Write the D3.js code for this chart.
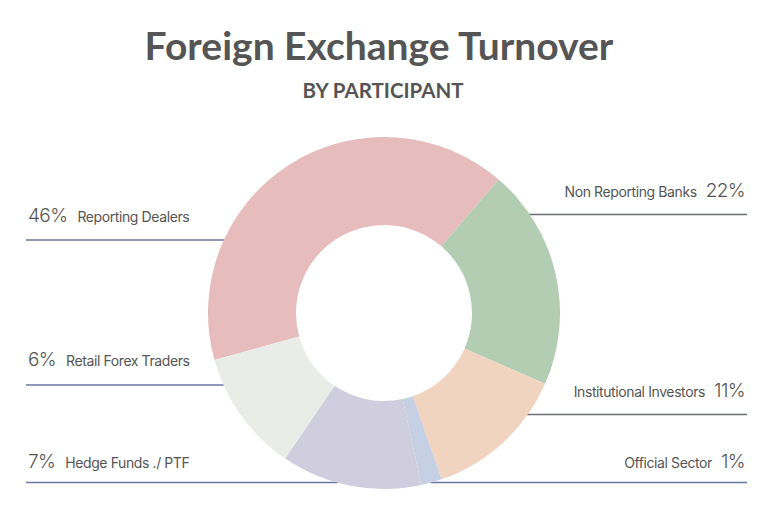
<!DOCTYPE html>
<html>
<head>
<meta charset="utf-8">
<script src="https://cdn.jsdelivr.net/npm/d3@7"></script>
<style>
  body { margin: 0; background: #fff; }
  .title { font-family: Lato, sans-serif; font-weight: 700; fill: #555; }
  .lab { font-family: Inter, sans-serif; fill: #555; }
</style>
</head>
<body>
<svg id="chart"></svg>
<script>
// participants, clockwise from the left edge of the big slice
const participants = ["Reporting Dealers", "Non Reporting Banks", "Institutional Investors",
  "Official Sector", "Hedge Funds ./ PTF", "Retail Forex Traders"];
// percentages printed in the labels
const labelPct = [46, 22, 11, 1, 7, 6];
// share of the ring each slice actually takes in the picture
const sliceShare = [40.6, 20.3, 13.1, 1.9, 12.9, 11.2];
const sliceColors = ["#e6bcbd", "#b3cdb3", "#f0d4c0", "#c6d0e4", "#d0cede", "#eaece8"];
// which side the label sits on, the y of its rule and of its text
const labelSide = ["left", "right", "right", "right", "left", "left"];
const ruleY = [240, 214.5, 414.5, 482.5, 482.5, 385];
const labelY = [221.5, 196.5, 397, 468, 467.5, 366];
const ruleColors = ["#6a76a0", "#6b6f78", "#6b6f78", "#6a76a0", "#6a76a0", "#6a76a0"];

const WIDTH = 768, HEIGHT = 512;
const CX = 384, CY = 313;
const OUTER = 176, INNER = 88;

const svg = d3.select("#chart").attr("width", WIDTH).attr("height", HEIGHT);

svg.append("text").attr("class", "title")
  .attr("x", 379).attr("y", 60).attr("text-anchor", "middle")
  .attr("font-size", 39).text("Foreign Exchange Turnover");
svg.append("text").attr("class", "title")
  .attr("x", 383).attr("y", 98).attr("text-anchor", "middle")
  .attr("font-size", 20.5).attr("font-weight", 800).text("BY PARTICIPANT");

const data = participants.map((p, i) => ({
  name: p, pct: labelPct[i], share: sliceShare[i], color: sliceColors[i],
  side: labelSide[i], y: ruleY[i], ty: labelY[i], rule: ruleColors[i]
}));

// rules go behind the ring and stop at its outer edge
const edgeX = (y, side) => {
  const dx = Math.sqrt(Math.max(0, OUTER * OUTER - (y - CY) * (y - CY)));
  return side === "left" ? CX - dx + 1 : CX + dx - 1;
};

svg.selectAll(".rule")
  .data(data)
  .enter().append("line")
  .attr("class", "rule")
  .attr("x1", d => d.side === "left" ? 26 : 747)
  .attr("x2", d => edgeX(d.y, d.side))
  .attr("y1", d => d.y).attr("y2", d => d.y)
  .attr("stroke", d => d.rule)
  .attr("stroke-width", 1.6);

const pie = d3.pie().sort(null).value(d => d.share)
  .startAngle(-105.5 * Math.PI / 180)
  .endAngle((360 - 105.5) * Math.PI / 180);
const arc = d3.arc().innerRadius(INNER).outerRadius(OUTER);

svg.append("g")
  .attr("transform", `translate(${CX},${CY})`)
  .selectAll("path")
  .data(pie(data))
  .enter().append("path")
  .attr("d", arc)
  .attr("fill", d => d.data.color);

// labels
const labels = svg.selectAll(".lab-g")
  .data(data)
  .enter().append("text")
  .attr("class", "lab")
  .attr("y", d => d.ty);

labels.each(function(d) {
  const t = d3.select(this);
  if (d.side === "left") {
    t.attr("x", 28).attr("text-anchor", "start");
    t.append("tspan").attr("font-size", 19).attr("font-weight", 300).attr("letter-spacing", -0.6).text(d.pct + "%");
    t.append("tspan").attr("dx", 10).attr("font-size", 14).attr("letter-spacing", -0.4).text(d.name);
  } else {
    t.attr("x", 745).attr("text-anchor", "end");
    t.append("tspan").attr("font-size", 14).attr("letter-spacing", -0.4).text(d.name);
    t.append("tspan").attr("dx", 9).attr("font-size", 19).attr("font-weight", 300).attr("letter-spacing", -0.6).text(d.pct + "%");
  }
});
</script>
</body>
</html>
